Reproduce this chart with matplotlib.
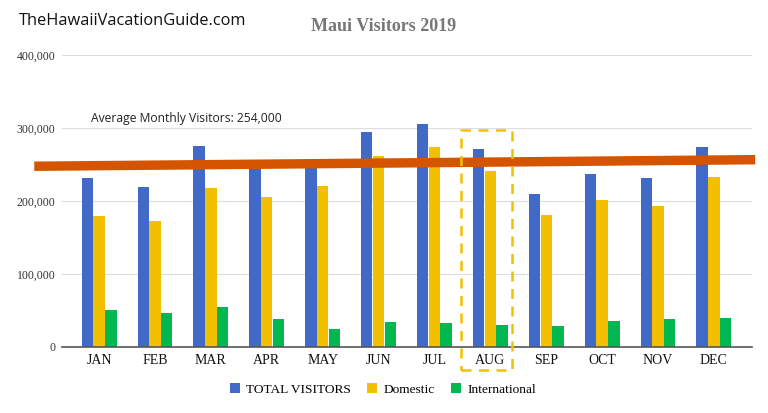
import matplotlib.pyplot as plt
from matplotlib.patches import Rectangle
import numpy as np

# Maui visitors 2019
months = ["JAN", "FEB", "MAR", "APR", "MAY", "JUN", "JUL", "AUG", "SEP", "OCT", "NOV", "DEC"]
total = [232000, 219000, 275000, 250000, 252000, 295000, 306000, 271000, 210000, 237000, 231000, 274000]
domestic = [180000, 172000, 218000, 206000, 220000, 261000, 274000, 241000, 181000, 201000, 193000, 233000]
international = [51000, 47000, 55000, 38000, 25000, 34000, 33000, 30000, 29000, 35000, 38000, 39000]
avg_visitors = 254000
avg_line = [247500, 256500]   # hand-drawn line is slightly tilted
highlight = "AUG"

BLUE = "#4169c8"
YELLOW = "#f2c000"
GREEN = "#00b84f"
ORANGE = "#d45400"
serif = "Liberation Serif"

fig = plt.figure(figsize=(7.68, 4.13), dpi=100)
ax = fig.add_axes([0.081, 0.160, 0.898, 0.707])

x = np.arange(len(months))
w = 0.21
ax.bar(x - w, total, w * 0.97, color=BLUE, label="TOTAL VISITORS", zorder=2)
ax.bar(x, domestic, w * 0.97, color=YELLOW, label="Domestic", zorder=2)
ax.bar(x + w, international, w * 0.97, color=GREEN, label="International", zorder=2)

ax.set_xlim(-0.66, 11.68)
ax.set_ylim(0, 400000)
ax.set_yticks([0, 100000, 200000, 300000, 400000])
ax.set_yticklabels([f"{v:,}" for v in ax.get_yticks().astype(int)], fontfamily=serif, fontsize=8.5, color="#333333")
ax.set_xticks(x)
ax.set_xticklabels(months, fontfamily=serif, fontsize=10, color="#111111")
ax.tick_params(length=0, pad=5)
ax.grid(axis="y", color="#dddddd", linewidth=0.8, zorder=0)
for s in ["top", "right", "left"]:
    ax.spines[s].set_visible(False)
ax.spines["bottom"].set_color("#555555")
ax.spines["bottom"].set_linewidth(1.2)

# average line, extends past the plot area
ax.plot([-1.16, 11.74], avg_line, color=ORANGE, linewidth=6.8, solid_capstyle="butt",
        clip_on=False, zorder=3)
ax.text(-0.15, 313000, f"Average Monthly Visitors: {avg_visitors:,}", fontfamily="Open Sans",
        fontsize=8.7, color="#222222", va="center")

# dashed box around the highlighted month
i = months.index(highlight)
ax.add_patch(Rectangle((i - 0.52, -31000), 0.9, 328000, fill=False, edgecolor=YELLOW,
                       linestyle=(0, (4, 3)), linewidth=1.8, clip_on=False, zorder=4))

fig.text(0.024, 0.950, "TheHawaiiVacationGuide.com", fontfamily="Open Sans", fontsize=11.8,
         color="#111111", va="center")
fig.text(0.5, 0.937, "Maui Visitors 2019", fontfamily=serif, fontweight="bold", fontsize=13,
         color="#777777", ha="center", va="center")

leg = ax.legend(loc="center", bbox_to_anchor=(0.465, -0.145), ncol=3, frameon=False,
                handlelength=0.75, handleheight=0.75, handletextpad=0.5, columnspacing=1.2,
                prop={"family": serif, "size": 9.6})

fig.savefig("out.png", dpi=100)
